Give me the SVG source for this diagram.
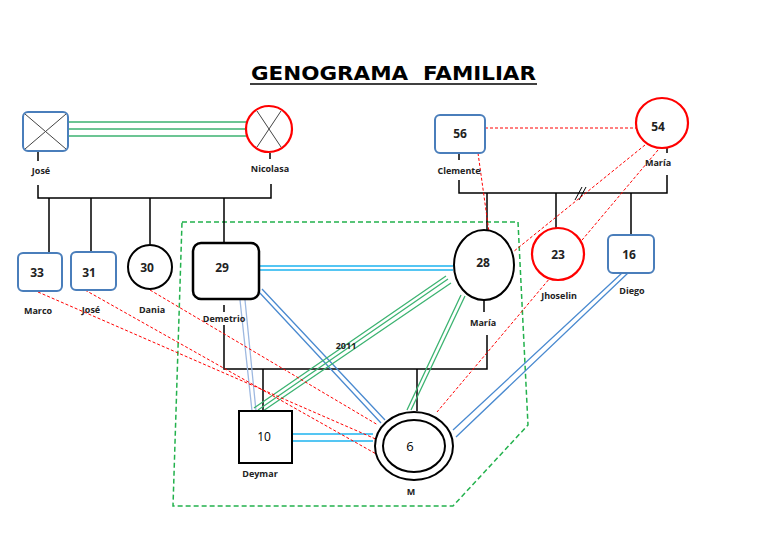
<svg xmlns="http://www.w3.org/2000/svg" width="768" height="543" viewBox="0 0 768 543">
<style>
text{font-family:"Open Sans","Liberation Sans",sans-serif;font-weight:bold;text-anchor:middle}
.lbl{font-size:9px;fill:#222}
.num{font-size:12px;fill:#222}
.bl{fill:#fff;stroke:#4a7ebb;stroke-width:2}
.rd{fill:#fff;stroke:#f00;stroke-width:2.2}
.bk{fill:#fff;stroke:#000;stroke-width:2}
.ln{stroke:#000;stroke-width:1.5;fill:none}
.red{stroke:#f00;stroke-width:1;stroke-dasharray:3 2;fill:none}
.grn{stroke:#3cb371;stroke-width:1.3;fill:none}
.blu{stroke:#4a8ad0;stroke-width:1.3;fill:none}
.cy{stroke:#1eb4f0;stroke-width:1.3;fill:none}
.lb{stroke:#9db8e0;stroke-width:1.3;fill:none}
</style>
<text x="251" y="80" textLength="285" lengthAdjust="spacingAndGlyphs" style="font-family:'DejaVu Sans',sans-serif;font-size:19px;font-weight:900;text-anchor:start;white-space:pre" xml:space="preserve">GENOGRAMA  FAMILIAR</text>
<line x1="250" y1="84" x2="537" y2="84" stroke="#000" stroke-width="1.5"/>
<polygon points="182,222 518,222 528,425 453,506 173,506" fill="none" stroke="#22b14c" stroke-width="1.5" stroke-dasharray="5 3"/>
<g id="connectors">
<path class="grn" d="M68 122H247M68 129H246M68 136H247"/>
<path class="red" d="M485 128H636"/>
<path class="ln" d="M38 151V161M270 153V159M38 185V198H271V184M49 198V253M91 198V252M150 198V244M224 198V243"/>
<path class="ln" d="M459 153V160M667 147V153M459 180V193H667V175M487 193V232M556 193V236M631 193V235"/>
<path d="M575 200L582 187M579 200L586 187" stroke="#000" stroke-width="1" fill="none"/>
<path class="ln" d="M224 305V312M484 300V312M224 325V369H487V335M263 369V411M417 369V411"/>
<path class="cy" d="M259 266H453M259 270H453"/>
<path class="blu" d="M259 292L381 423M262 289L385 420"/>
<path class="lb" d="M240 300L252 411M245 300L256 411"/>
<path class="grn" d="M446 276L254 408M448 279L258 410M451 283L263 411"/>
<path class="grn" d="M461 295L407 410M465 296L411 410"/>
<path class="cy" d="M292 434H373M292 441H373"/>
<path class="blu" d="M622 273L453 430M628 273L456 437"/>
<path class="red" d="M38 292L378 440M85 290L378 455M150 290L378 425"/>
<path class="red" d="M478 153L489 232M645 145L513 252M658 150L437 412"/>
</g>
<g id="jose1"><rect class="bl" x="23" y="112" width="45" height="39" rx="5"/><path d="M25 114L66 149M66 114L25 149" stroke="#444" stroke-width="1"/><text class="lbl" x="41" y="174">José</text></g>
<g id="nicolasa"><circle class="rd" cx="269" cy="129" r="23"/><path d="M257 111L281 147M281 111L257 147" stroke="#444" stroke-width="1"/><text class="lbl" x="270" y="172">Nicolasa</text></g>
<g id="marco"><rect class="bl" x="18" y="253" width="44" height="38" rx="5"/><text class="num" x="37" y="277">33</text><text class="lbl" x="38" y="314">Marco</text></g>
<g id="jose2"><rect class="bl" x="71" y="252" width="45" height="38" rx="5"/><text class="num" x="89" y="277">31</text><text class="lbl" x="91" y="313">José</text></g>
<g id="dania"><circle class="bk" cx="150" cy="267" r="22"/><text class="num" x="147" y="272">30</text><text class="lbl" x="152" y="313">Dania</text></g>
<g id="demetrio"><rect x="193" y="243" width="66" height="56" rx="8" fill="#fff" stroke="#000" stroke-width="2.5"/><text class="num" x="222" y="272">29</text><text class="lbl" x="224" y="322">Demetrio</text></g>
<g id="clemente"><rect class="bl" x="435" y="115" width="50" height="38" rx="5"/><text class="num" x="460" y="138">56</text><text class="lbl" x="459" y="174">Clemente</text></g>
<g id="maria54"><ellipse class="rd" cx="662" cy="123" rx="26" ry="25"/><text class="num" x="658" y="131">54</text><text class="lbl" x="658" y="166">María</text></g>
<g id="maria28"><ellipse class="bk" cx="484" cy="265" rx="30" ry="35"/><text class="num" x="483" y="267">28</text><text class="lbl" x="483" y="326">María</text></g>
<g id="jhoselin"><circle class="rd" cx="558" cy="254" r="26"/><text class="num" x="558" y="259">23</text><text class="lbl" x="559" y="299">Jhoselin</text></g>
<g id="diego"><rect class="bl" x="608" y="235" width="46" height="38" rx="5"/><text class="num" x="629" y="259">16</text><text class="lbl" x="632" y="294">Diego</text></g>
<text class="lbl" x="346" y="349">2011</text>
<g id="deymar"><rect x="239" y="411" width="53" height="52" fill="#fff" stroke="#000" stroke-width="2"/><text x="264" y="441" style="font-weight:normal;font-size:12px">10</text><text class="lbl" x="260" y="477">Deymar</text></g>
<g id="m"><ellipse cx="414" cy="446" rx="39" ry="34" fill="#fff" stroke="#000" stroke-width="2"/><ellipse cx="414" cy="446" rx="31" ry="26" fill="none" stroke="#000" stroke-width="2"/><text x="410" y="451" style="font-weight:normal;font-size:13px">6</text><text class="lbl" x="411" y="495">M</text></g>
</svg>
